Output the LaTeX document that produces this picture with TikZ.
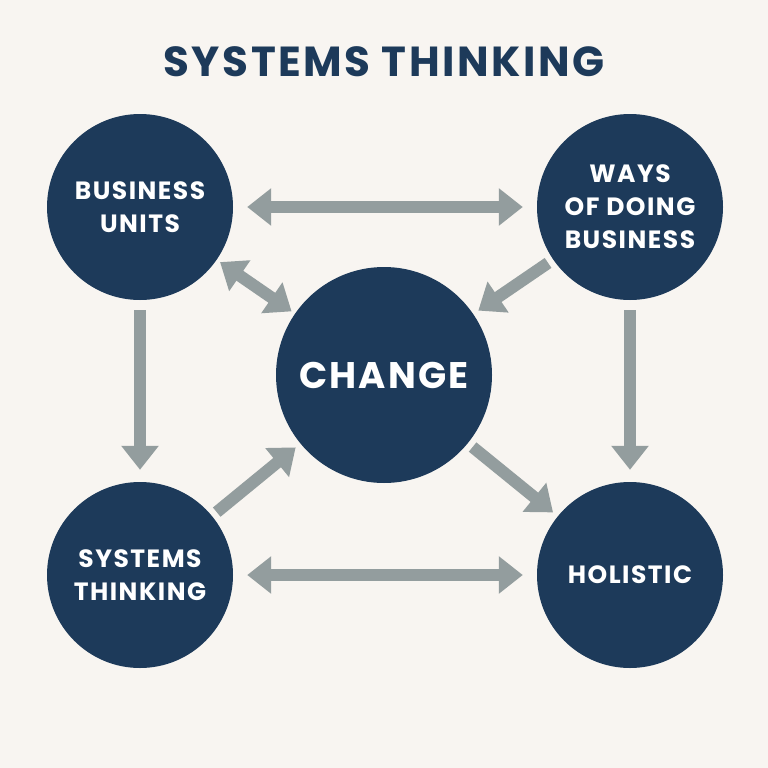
\documentclass[tikz,border=0pt]{standalone}
\usepackage{fontspec}
\setmainfont{Poppins}
\newfontfamily\wideface[LetterSpace=6]{Poppins}
\usetikzlibrary{arrows.meta}
\definecolor{navy}{HTML}{1D3A5A}
\definecolor{arrowgray}{HTML}{939D9E}
\definecolor{paper}{HTML}{F8F5F1}
\tikzset{
  topic/.style={circle, fill=navy, text=white, minimum size=186pt, inner sep=0pt,
    align=center, font=\wideface\fontsize{25}{33}\selectfont\bfseries},
  link/.style={draw=arrowgray, line width=12pt,
    -{Triangle[length=24pt,width=36pt]}, shorten >=6pt, shorten <=6pt},
  both/.style={link, {Triangle[length=24pt,width=36pt]}-{Triangle[length=24pt,width=36pt]}}
}
\begin{document}
\begin{tikzpicture}[x=1pt, y=-1pt]
  \fill[paper] (0,0) rectangle (768,768);
  \useasboundingbox (0,0) rectangle (768,768);

  % title
  \node (title) [text=navy, font=\wideface\fontsize{42}{48}\selectfont\bfseries] at (384,62) {SYSTEMS THINKING};

  % circles
  \node [topic] (units) at (140,207) {BUSINESS\\UNITS};
  \node [topic] (ways) at (630,207) {WAYS\\OF DOING\\BUSINESS};
  \node [topic, minimum size=216pt, font=\wideface\fontsize{37}{40}\selectfont\bfseries] (change) at (384,375) {CHANGE};
  \node [topic] (systems) at (140,575) {SYSTEMS\\THINKING};
  \node [topic] (holistic) at (630,575) {HOLISTIC};

  % arrows
  \draw [both, shorten >=14pt, shorten <=14pt] (units) -- (ways);
  \draw [both, shorten >=14pt, shorten <=14pt] (systems) -- (holistic);
  \draw [link, shorten >=12pt, shorten <=10pt] (units) -- (systems);
  \draw [link, shorten >=12pt, shorten <=10pt] (ways) -- (holistic);
  \draw [both, shorten >=4pt, shorten <=4pt] (units) -- (change);
  \draw [link] (ways) -- (change);
  \draw [link] (systems) -- (change);
  \draw [link] (change) -- (holistic);
\end{tikzpicture}
\end{document}
